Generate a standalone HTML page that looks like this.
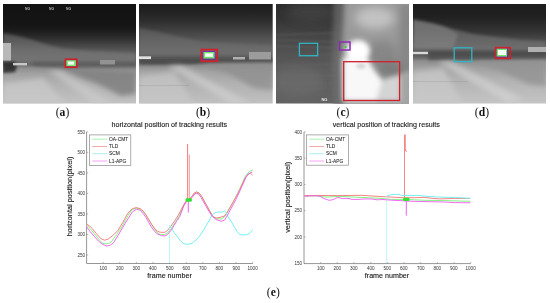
<!DOCTYPE html>
<html><head><meta charset="utf-8">
<style>
html,body{margin:0;padding:0;background:#fff;width:550px;height:303px;overflow:hidden;position:relative}
.im{position:absolute;top:4px;height:99.5px;overflow:hidden}
.im svg{display:block}
.plots{position:absolute;left:0;top:0}
.ov{font-family:"Liberation Sans",sans-serif;font-size:3.4px;font-weight:bold;fill:#b8b8b8}
.ov2{font-family:"Liberation Sans",sans-serif;font-size:4px;font-weight:bold;fill:#e8e8e8}
</style></head>
<body>
<div class="im" style="left:3.3px;width:133px">
<svg width="133" height="99.5" viewBox="0 0 133 99.5">
<defs>
<linearGradient id="gA" x1="0" y1="0" x2="0" y2="1"><stop offset="0.0000" stop-color="#121212"/><stop offset="0.2010" stop-color="#151515"/><stop offset="0.2613" stop-color="#1b1b1b"/><stop offset="0.3116" stop-color="#262626"/><stop offset="0.3618" stop-color="#343434"/><stop offset="0.4121" stop-color="#454545"/><stop offset="0.4623" stop-color="#555"/><stop offset="0.5226" stop-color="#5e5e5e"/><stop offset="0.5729" stop-color="#626262"/><stop offset="0.6131" stop-color="#6a6a6a"/><stop offset="0.6432" stop-color="#8e8e8e"/><stop offset="0.7035" stop-color="#a2a2a2"/><stop offset="0.8040" stop-color="#b2b2b2"/><stop offset="1.0000" stop-color="#c2c2c2"/></linearGradient>
<filter id="bA" x="-30%" y="-30%" width="160%" height="160%"><feGaussianBlur stdDeviation="1.6"/></filter><filter id="bA2" x="-30%" y="-30%" width="160%" height="160%"><feGaussianBlur stdDeviation="0.7"/></filter><filter id="bA3" x="-30%" y="-30%" width="160%" height="160%"><feGaussianBlur stdDeviation="2.5"/></filter>
</defs>
<rect width="133" height="99.5" fill="url(#gA)"/>
<g filter="url(#bA)">
<polygon points="0,29 15,32 30,36 45,41 62,45 90,47 133,49 133,58 0,58" fill="#8a8a8a" opacity="0.45"/>
<polygon points="0,57 12,57 14,62 12,68 0,69" fill="#2a2a2a" opacity="0.9"/>
<polygon points="30,57 133,57 133,64 60,65 30,62" fill="#585858" opacity="0.6"/>
</g>
<g filter="url(#bA3)">
<polygon points="58,65 133,67 133,90 118,92 95,80" fill="#7c7c7c" opacity="0.8"/>
<polygon points="0,80 40,74 62,99.5 0,99.5" fill="#cacaca" opacity="0.7"/>
<polygon points="45,67 58,66 110,99.5 92,99.5" fill="#d0d0d0" opacity="0.55"/>
</g>
<g filter="url(#bA2)">
<rect x="0" y="39" width="8" height="17.5" fill="#b8b8b8"/>
<rect x="10" y="59" width="14" height="2.4" fill="#c8c8c8"/>
<rect x="97" y="56" width="15" height="4.5" fill="#929292"/>
</g>
<text x="22" y="6.2" class="ov">NG</text><text x="46" y="6.2" class="ov">NG</text><text x="63" y="6.2" class="ov">NG</text>
<rect x="63.4" y="56.4" width="9.4" height="5.6" fill="#7de87d"/>
<rect x="65" y="57.6" width="6" height="3" fill="#f4fff4"/>
<rect x="62.3" y="55.2" width="11.600000000000009" height="8.0" fill="none" stroke="#d0202c" stroke-width="1.6"/>
</svg></div>
<div class="im" style="left:139px;width:133.7px">
<svg width="133.7" height="99.5" viewBox="0 0 133.7 99.5">
<defs>
<linearGradient id="gB" x1="0" y1="0" x2="0" y2="1"><stop offset="0.0000" stop-color="#1c1c1c"/><stop offset="0.0804" stop-color="#222"/><stop offset="0.1608" stop-color="#2c2c2c"/><stop offset="0.2613" stop-color="#404040"/><stop offset="0.3618" stop-color="#555"/><stop offset="0.4623" stop-color="#626262"/><stop offset="0.5025" stop-color="#666"/><stop offset="0.5327" stop-color="#606060"/><stop offset="0.5829" stop-color="#6a6a6a"/><stop offset="0.6131" stop-color="#8e8e8e"/><stop offset="0.6834" stop-color="#a4a4a4"/><stop offset="0.8040" stop-color="#b2b2b2"/><stop offset="1.0000" stop-color="#c0c0c0"/></linearGradient>
<filter id="bB" x="-30%" y="-30%" width="160%" height="160%"><feGaussianBlur stdDeviation="1.6"/></filter><filter id="bB2" x="-30%" y="-30%" width="160%" height="160%"><feGaussianBlur stdDeviation="0.7"/></filter><filter id="bB3" x="-30%" y="-30%" width="160%" height="160%"><feGaussianBlur stdDeviation="2.5"/></filter>
</defs>
<rect width="133.7" height="99.5" fill="url(#gB)"/>
<g filter="url(#bB)">
<polygon points="0,24 20,28 40,33 60,37 90,39 133.7,41 133.7,50 0,50" fill="#7a7a7a" opacity="0.4"/>
<polygon points="0,54 40,54 133.7,54 133.7,58 70,59 40,61 0,61" fill="#454545" opacity="0.8"/>
</g>
<g filter="url(#bB3)">
<polygon points="60,60 133.7,59 133.7,86 115,84 90,70" fill="#8e8e8e" opacity="0.8"/>
<polygon points="0,72 35,68 55,99.5 0,99.5" fill="#c8c8c8" opacity="0.7"/>
<polygon points="28,62 42,61 112,99.5 92,99.5" fill="#d4d4d4" opacity="0.6"/>
</g>
<g filter="url(#bB2)">
<rect x="0" y="52.3" width="12" height="2.8" fill="#e0e0e0"/>
<rect x="110" y="48" width="22" height="7.5" fill="#9c9c9c"/><rect x="94" y="53" width="12" height="2.5" fill="#b0b0b0"/>
<rect x="0" y="81" width="50" height="1" fill="#909090" opacity="0.3"/>
</g>
<rect x="63.5" y="47" width="13" height="8.5" fill="#7a2cb0"/>
<rect x="64.5" y="48" width="11" height="6.5" fill="#6be86b"/>
<rect x="66" y="49.3" width="8" height="3.5" fill="#f6fff6"/>
<rect x="62.4" y="45.6" width="15.800000000000004" height="11.600000000000001" fill="none" stroke="#d0202c" stroke-width="1.8"/>
</svg></div>
<div class="im" style="left:275.8px;width:133.2px">
<svg width="133.2" height="99.5" viewBox="0 0 133.2 99.5">
<defs>
<linearGradient id="gC" x1="0" y1="0" x2="0" y2="1"><stop offset="0.0000" stop-color="#2c2c2c"/><stop offset="0.1508" stop-color="#343434"/><stop offset="0.3015" stop-color="#444"/><stop offset="0.4523" stop-color="#505050"/><stop offset="0.6533" stop-color="#5c5c5c"/><stop offset="1.0000" stop-color="#626262"/></linearGradient>
<filter id="bC" x="-30%" y="-30%" width="160%" height="160%"><feGaussianBlur stdDeviation="5"/></filter><filter id="bC2" x="-30%" y="-30%" width="160%" height="160%"><feGaussianBlur stdDeviation="2.5"/></filter><filter id="bC3" x="-30%" y="-30%" width="160%" height="160%"><feGaussianBlur stdDeviation="1.5"/></filter><filter id="bC4" x="-30%" y="-30%" width="160%" height="160%"><feGaussianBlur stdDeviation="0.8"/></filter>
</defs>
<rect width="133.2" height="99.5" fill="url(#gC)"/>
<g filter="url(#bC4)" opacity="0.6">
<path d="M0,31 L60,29 M0,36 L62,38 M0,42 L58,44 M0,62 L60,60 M0,70 L60,72 M0,78 L60,80 M0,86 L60,84 M30,52 L62,50" stroke="#6a6a6a" stroke-width="1.2"/>
</g>
<g filter="url(#bC)">
<ellipse cx="22" cy="78" rx="26" ry="14" fill="#6c6c6c" opacity="0.7"/>
<ellipse cx="35" cy="8" rx="25" ry="10" fill="#484848" opacity="0.6"/>
</g>
<g filter="url(#bC2)">
<polygon points="68,-10 145,-10 145,110 68,110 64,60" fill="#9a9a9a"/>
<polygon points="58,-10 70,-10 66,60 68,110 58,110 56,60" fill="#707070" opacity="0.7"/>
</g>
<g filter="url(#bC)">
<ellipse cx="99" cy="14" rx="20" ry="11" fill="#c2c2c2"/>
<rect x="124" y="0" width="14" height="72" fill="#848484"/>
<ellipse cx="106" cy="50" rx="15" ry="13" fill="#868686"/>
<ellipse cx="114" cy="66" rx="13" ry="9" fill="#7a7a7a"/>
</g>
<g filter="url(#bC2)">
<ellipse cx="82" cy="47" rx="12" ry="11" fill="#fff"/>
<polygon points="80,97 98,80 112,74 124,71 133,68 133,97" fill="#d4d4d4"/>
<polygon points="67,53 92,55 98,66 106,76 100,97 67,97" fill="#f8f8f8"/>
<rect x="124" y="70" width="12" height="32" fill="#a4a4a4"/>
</g>
<g filter="url(#bC3)">
<ellipse cx="85" cy="62" rx="5" ry="3" fill="#d8d8d8"/>
</g>
<text x="45.5" y="97.3" class="ov2">NG</text>
<rect x="23.4" y="39.3" width="18.200000000000003" height="12.400000000000006" fill="none" stroke="#30b4c4" stroke-width="1.3"/>
<circle cx="69.7" cy="43" r="1" fill="#2ad02a"/>
<rect x="63.5" y="38" width="10.5" height="8" fill="none" stroke="#8a2cb4" stroke-width="1.5"/>
<rect x="67.7" y="57.7" width="55.89999999999999" height="38.8" fill="none" stroke="#d0202c" stroke-width="1.3"/>
</svg></div>
<div class="im" style="left:412.6px;width:133px">
<svg width="133" height="99.5" viewBox="0 0 133 99.5">
<defs>
<linearGradient id="gD" x1="0" y1="0" x2="0" y2="1"><stop offset="0.0000" stop-color="#1c1c1c"/><stop offset="0.1206" stop-color="#202020"/><stop offset="0.2010" stop-color="#2a2a2a"/><stop offset="0.2814" stop-color="#363636"/><stop offset="0.3417" stop-color="#444"/><stop offset="0.4020" stop-color="#505050"/><stop offset="0.4422" stop-color="#5a5a5a"/><stop offset="0.4724" stop-color="#5a5a5a"/><stop offset="0.5025" stop-color="#555"/><stop offset="0.5427" stop-color="#6c6c6c"/><stop offset="0.5729" stop-color="#8e8e8e"/><stop offset="0.6432" stop-color="#a2a2a2"/><stop offset="0.7538" stop-color="#b2b2b2"/><stop offset="1.0000" stop-color="#c4c4c4"/></linearGradient>
<filter id="bD" x="-30%" y="-30%" width="160%" height="160%"><feGaussianBlur stdDeviation="1.6"/></filter><filter id="bD2" x="-30%" y="-30%" width="160%" height="160%"><feGaussianBlur stdDeviation="0.7"/></filter><filter id="bD3" x="-30%" y="-30%" width="160%" height="160%"><feGaussianBlur stdDeviation="2.5"/></filter>
</defs>
<rect width="133" height="99.5" fill="url(#gD)"/>
<g filter="url(#bD)">
<polygon points="0,15 20,19 40,25 60,30 83,33 110,36 133,37 133,46 0,46" fill="#7e7e7e" opacity="0.55"/>
<polygon points="0,16 30,22 45,30 40,44 0,44" fill="#909090" opacity="0.4"/>
<polygon points="15,46 133,46 133,55 70,56 15,56" fill="#484848" opacity="0.7"/>
</g>
<g filter="url(#bD3)">
<polygon points="55,57 133,56 133,82 115,80 85,66" fill="#929292" opacity="0.8"/>
<polygon points="0,68 30,64 50,99.5 0,99.5" fill="#cacaca" opacity="0.7"/>
<polygon points="25,58 38,57 110,95 95,99.5" fill="#d6d6d6" opacity="0.6"/>
</g>
<g filter="url(#bD2)">
<rect x="0" y="47.8" width="15" height="2.4" fill="#d8d8d8"/>
<rect x="115" y="43" width="18" height="5" fill="#b0b0b0"/>
<rect x="0" y="77" width="55" height="1" fill="#909090" opacity="0.3"/>
</g>
<rect x="41.2" y="43.8" width="17.599999999999994" height="13.800000000000004" fill="none" stroke="#30b4c4" stroke-width="1.3"/>
<rect x="82.5" y="43.5" width="12.5" height="10" fill="#7a2cb0"/>
<rect x="83.5" y="44.5" width="10.5" height="8" fill="#6be86b"/>
<rect x="85" y="46" width="8" height="5" fill="#f6fff6"/>
<rect x="82.5" y="43.6" width="14.700000000000003" height="10.799999999999997" fill="none" stroke="#d0202c" stroke-width="1.6"/>
</svg></div>

<svg class="plots" width="550" height="303" viewBox="0 0 550 303">
<style>
 .tk{font-family:"Liberation Sans",Arial,sans-serif;font-size:4.6px;fill:#333}
 .lg{font-family:"Liberation Sans",Arial,sans-serif;font-size:4.85px;fill:#222;stroke:#222;stroke-width:0.06px}
 .tt{font-family:"Liberation Sans",Arial,sans-serif;font-size:7.15px;fill:#1a1a1a;stroke:#1a1a1a;stroke-width:0.12px}
 .yl{font-family:"Liberation Sans",Arial,sans-serif;font-size:7.4px;fill:#1a1a1a;stroke:#1a1a1a;stroke-width:0.12px}
 .cap{font-family:"Liberation Serif","Times New Roman",serif;font-size:11.6px;fill:#111}
 .cap b{font-weight:bold}
</style>
<!-- left plot -->
<path d="M86.6,131.9 V263.5 H252.7" fill="none" stroke="#8a8a8a" stroke-width="0.9"/>
<line x1="103.2" y1="263.5" x2="103.2" y2="261.9" stroke="#8a8a8a" stroke-width="0.6"/>
<text x="99.5" y="269.5" class="tk">100</text>
<line x1="119.8" y1="263.5" x2="119.8" y2="261.9" stroke="#8a8a8a" stroke-width="0.6"/>
<text x="116.0" y="269.5" class="tk">200</text>
<line x1="136.4" y1="263.5" x2="136.4" y2="261.9" stroke="#8a8a8a" stroke-width="0.6"/>
<text x="132.5" y="269.5" class="tk">300</text>
<line x1="153.0" y1="263.5" x2="153.0" y2="261.9" stroke="#8a8a8a" stroke-width="0.6"/>
<text x="149.0" y="269.5" class="tk">400</text>
<line x1="169.6" y1="263.5" x2="169.6" y2="261.9" stroke="#8a8a8a" stroke-width="0.6"/>
<text x="166.0" y="269.5" class="tk">500</text>
<line x1="186.3" y1="263.5" x2="186.3" y2="261.9" stroke="#8a8a8a" stroke-width="0.6"/>
<text x="182.5" y="269.5" class="tk">600</text>
<line x1="202.9" y1="263.5" x2="202.9" y2="261.9" stroke="#8a8a8a" stroke-width="0.6"/>
<text x="199.0" y="269.5" class="tk">700</text>
<line x1="219.5" y1="263.5" x2="219.5" y2="261.9" stroke="#8a8a8a" stroke-width="0.6"/>
<text x="215.5" y="269.5" class="tk">800</text>
<line x1="236.1" y1="263.5" x2="236.1" y2="261.9" stroke="#8a8a8a" stroke-width="0.6"/>
<text x="232.5" y="269.5" class="tk">900</text>
<line x1="252.7" y1="263.5" x2="252.7" y2="261.9" stroke="#8a8a8a" stroke-width="0.6"/>
<text x="247.5" y="269.5" class="tk">1000</text>
<line x1="86.6" y1="255.0" x2="88.19999999999999" y2="255.0" stroke="#8a8a8a" stroke-width="0.6"/>
<text x="77.5" y="256.6" class="tk">250</text>
<line x1="86.6" y1="234.5" x2="88.19999999999999" y2="234.5" stroke="#8a8a8a" stroke-width="0.6"/>
<text x="77.5" y="236.1" class="tk">300</text>
<line x1="86.6" y1="214.0" x2="88.19999999999999" y2="214.0" stroke="#8a8a8a" stroke-width="0.6"/>
<text x="77.5" y="215.6" class="tk">350</text>
<line x1="86.6" y1="193.4" x2="88.19999999999999" y2="193.4" stroke="#8a8a8a" stroke-width="0.6"/>
<text x="77.5" y="195.0" class="tk">400</text>
<line x1="86.6" y1="172.9" x2="88.19999999999999" y2="172.9" stroke="#8a8a8a" stroke-width="0.6"/>
<text x="77.5" y="174.5" class="tk">450</text>
<line x1="86.6" y1="152.4" x2="88.19999999999999" y2="152.4" stroke="#8a8a8a" stroke-width="0.6"/>
<text x="77.5" y="154.0" class="tk">500</text>
<line x1="86.6" y1="131.9" x2="88.19999999999999" y2="131.9" stroke="#8a8a8a" stroke-width="0.6"/>
<text x="77.5" y="133.5" class="tk">550</text>

<polyline points="86.6,225.0 87.1,225.4 90.2,228.6 94.5,233.9 98.7,239.1 101.9,242.8 105.0,243.9 108.7,243.4 111.4,241.8 116.7,234.4 122.0,226.5 126.7,218.0 128.1,215.4 132.2,209.6 136.4,208.1 140.5,209.2 143.0,211.3 145.9,215.2 148.9,220.2 151.9,225.1 154.9,229.8 157.8,233.0 160.7,234.8 164.8,234.6 167.7,232.7 171.4,228.2 175.6,221.6 179.3,215.8 183.8,205.0 186.1,201.4 188.5,199.8 191.9,196.7 194.2,193.3 196.5,192.1 199.0,193.1 201.6,196.4 204.2,201.1 208.2,208.3 211.5,214.3 213.5,216.9 216.1,218.7 221.4,219.1 225.0,216.5 227.9,211.5 231.9,204.6 235.8,196.7 239.8,188.8 242.5,182.5 244.8,177.2 247.0,174.0 249.5,171.5 252.7,169.9" fill="none" stroke="#7cf27c" stroke-width="0.95" stroke-linejoin="round"/>
<polyline points="86.6,224.0 87.1,224.3 90.2,226.5 92.3,228.6 96.6,233.9 100.8,238.6 104.5,240.2 108.2,239.1 113.5,234.9 117.7,230.7 123.0,222.2 125.1,218.0 128.1,213.0 132.2,208.8 136.4,207.5 140.5,208.8 143.0,210.8 145.9,214.7 148.9,219.7 151.9,224.6 154.9,229.0 157.8,231.5 160.8,232.3 164.8,232.3 167.3,230.7 170.6,226.5 174.7,220.8 178.4,215.0 183.8,204.6 186.1,201.1 188.5,199.5 191.9,196.5 194.2,193.1 196.5,191.9 199.0,192.9 201.6,196.2 204.2,200.9 208.2,208.1 211.5,214.1 213.5,216.7 216.1,218.0 220.1,217.4 224.7,216.0 227.9,211.0 231.9,204.0 235.8,197.4 239.8,189.6 242.5,183.4 245.6,177.2 248.0,174.2 250.1,173.2 251.5,174.2 252.7,175.2" fill="none" stroke="#f47c7c" stroke-width="0.95" stroke-linejoin="round"/>
<line x1="187.6" y1="199.5" x2="187.6" y2="144" stroke="#f47c7c" stroke-width="1"/>
<line x1="189.3" y1="199.5" x2="189.3" y2="154.5" stroke="#f47c7c" stroke-width="0.8"/>
<polyline points="169.5,225.0 172.0,228.9 174.0,232.4 177.9,237.3 180.9,241.3 183.9,243.8 187.8,244.3 191.8,243.3 195.8,240.3 199.7,235.9 203.7,229.9 207.6,223.0 209.6,220.0 211.5,216.0 213.5,213.4 217.5,212.1 222.7,212.1 224.2,210.6 226.0,212.5 228.0,216.6 231.3,221.6 234.6,227.4 237.1,231.5 239.5,234.4 242.0,234.9 246.1,234.8 249.4,233.5 251.9,230.7 252.7,229.5" fill="none" stroke="#70eeee" stroke-width="0.95" stroke-linejoin="round"/>
<line x1="169.5" y1="225" x2="169.5" y2="263" stroke="#a8f4f4" stroke-width="0.7"/>
<polyline points="86.6,226.5 87.1,227.5 90.2,231.7 94.5,236.5 98.7,241.3 101.9,243.9 106.1,246.0 109.8,245.5 113.5,242.8 117.7,236.0 123.0,227.0 125.0,223.5 128.1,218.7 132.2,212.1 136.4,209.2 140.5,210.4 143.0,213.4 145.9,217.4 148.9,222.8 151.9,227.8 154.9,231.8 157.8,234.2 161.5,235.6 164.8,236.0 167.7,234.4 171.4,229.8 176.4,221.6 179.7,216.6 183.8,206.0 186.1,202.0 188.5,200.5 192.0,197.7 195.0,193.6 197.0,193.2 199.0,194.4 201.0,197.4 203.0,201.0 205.5,205.2 208.2,210.0 212.2,216.4 216.1,219.6 221.4,221.3 224.7,220.0 227.9,214.5 231.9,207.0 235.8,199.7 239.8,191.2 241.9,186.4 246.1,177.2 248.5,174.0 250.5,172.6 252.2,172.1" fill="none" stroke="#f060f0" stroke-width="0.95" stroke-linejoin="round"/>
<line x1="188.3" y1="200" x2="188.3" y2="212.5" stroke="#f060f0" stroke-width="1"/>
<rect x="185.6" y="198.3" width="6.3" height="3.4" rx="1.2" fill="#30e430"/>
<rect x="89.4" y="134.9" width="41.4" height="30.5" fill="#fff" stroke="#8a8a8a" stroke-width="0.7"/>
<line x1="92.30000000000001" y1="139.20" x2="107.2" y2="139.20" stroke="#9cf09c" stroke-width="0.85"/>
<text x="109.10000000000001" y="140.95" class="lg">OA-CMT</text>
<line x1="92.30000000000001" y1="146.47" x2="107.2" y2="146.47" stroke="#f49a9a" stroke-width="0.85"/>
<text x="109.10000000000001" y="148.22" class="lg">TLD</text>
<line x1="92.30000000000001" y1="153.74" x2="107.2" y2="153.74" stroke="#98eef0" stroke-width="0.85"/>
<text x="109.10000000000001" y="155.49" class="lg">SCM</text>
<line x1="92.30000000000001" y1="161.01" x2="107.2" y2="161.01" stroke="#f294f2" stroke-width="0.85"/>
<text x="109.10000000000001" y="162.76" class="lg">L1-APG</text>
<text x="169.3" y="127.0" class="tt" text-anchor="middle">horizontal position of tracking results</text>
<text x="169.6" y="278.1" class="tt" text-anchor="middle">frame number</text>
<text transform="translate(72.2,196.5) rotate(-90)" class="yl" text-anchor="middle">horizontal position(pixel)</text>

<!-- right plot -->
<path d="M304,131.9 V263.6 H470.7" fill="none" stroke="#8a8a8a" stroke-width="0.9"/>
<line x1="320.7" y1="263.6" x2="320.7" y2="262.0" stroke="#8a8a8a" stroke-width="0.6"/>
<text x="317.0" y="269.6" class="tk">100</text>
<line x1="337.3" y1="263.6" x2="337.3" y2="262.0" stroke="#8a8a8a" stroke-width="0.6"/>
<text x="333.5" y="269.6" class="tk">200</text>
<line x1="354.0" y1="263.6" x2="354.0" y2="262.0" stroke="#8a8a8a" stroke-width="0.6"/>
<text x="350.0" y="269.6" class="tk">300</text>
<line x1="370.7" y1="263.6" x2="370.7" y2="262.0" stroke="#8a8a8a" stroke-width="0.6"/>
<text x="367.0" y="269.6" class="tk">400</text>
<line x1="387.4" y1="263.6" x2="387.4" y2="262.0" stroke="#8a8a8a" stroke-width="0.6"/>
<text x="383.5" y="269.6" class="tk">500</text>
<line x1="404.0" y1="263.6" x2="404.0" y2="262.0" stroke="#8a8a8a" stroke-width="0.6"/>
<text x="400.0" y="269.6" class="tk">600</text>
<line x1="420.7" y1="263.6" x2="420.7" y2="262.0" stroke="#8a8a8a" stroke-width="0.6"/>
<text x="417.0" y="269.6" class="tk">700</text>
<line x1="437.4" y1="263.6" x2="437.4" y2="262.0" stroke="#8a8a8a" stroke-width="0.6"/>
<text x="433.5" y="269.6" class="tk">800</text>
<line x1="454.0" y1="263.6" x2="454.0" y2="262.0" stroke="#8a8a8a" stroke-width="0.6"/>
<text x="450.0" y="269.6" class="tk">900</text>
<line x1="470.7" y1="263.6" x2="470.7" y2="262.0" stroke="#8a8a8a" stroke-width="0.6"/>
<text x="465.5" y="269.6" class="tk">1000</text>
<line x1="304" y1="263.3" x2="305.6" y2="263.3" stroke="#8a8a8a" stroke-width="0.6"/>
<text x="294.5" y="264.9" class="tk">150</text>
<line x1="304" y1="237.0" x2="305.6" y2="237.0" stroke="#8a8a8a" stroke-width="0.6"/>
<text x="294.5" y="238.6" class="tk">200</text>
<line x1="304" y1="210.7" x2="305.6" y2="210.7" stroke="#8a8a8a" stroke-width="0.6"/>
<text x="294.5" y="212.3" class="tk">250</text>
<line x1="304" y1="184.5" x2="305.6" y2="184.5" stroke="#8a8a8a" stroke-width="0.6"/>
<text x="294.5" y="186.1" class="tk">300</text>
<line x1="304" y1="158.2" x2="305.6" y2="158.2" stroke="#8a8a8a" stroke-width="0.6"/>
<text x="294.5" y="159.8" class="tk">350</text>
<line x1="304" y1="131.9" x2="305.6" y2="131.9" stroke="#8a8a8a" stroke-width="0.6"/>
<text x="294.5" y="133.5" class="tk">400</text>

<polyline points="304.3,195.9 318.0,196.0 320.8,196.2 323.9,197.0 329.3,197.0 334.8,196.6 345.0,196.6 360.0,197.4 380.0,198.3 391.5,199.4 403.1,199.4 414.6,199.8 425.0,200.3 444.8,200.6 470.3,201.3" fill="none" stroke="#7cf27c" stroke-width="0.95" stroke-linejoin="round"/>
<polyline points="304.3,195.6 320.0,195.5 340.0,195.6 355.0,195.4 362.0,195.3 375.0,196.2 380.0,196.5 391.5,197.1 403.1,197.7 414.6,197.7 425.0,197.4 432.0,198.3 439.9,198.9 454.7,198.4 470.3,198.4" fill="none" stroke="#f47c7c" stroke-width="0.95" stroke-linejoin="round"/>
<path d="M404.5,197.7 V134.4 M405.3,151 V134.6 M405.4,149.5 L406.6,151.8" stroke="#f47c7c" stroke-width="0.9" fill="none"/>
<polyline points="386.6,196.0 390.4,194.8 397.3,194.2 401.9,195.4 408.9,195.6 418.1,195.4 425.0,196.1 439.9,197.1 454.7,197.4 470.3,198.4" fill="none" stroke="#70eeee" stroke-width="0.95" stroke-linejoin="round"/>
<line x1="386.6" y1="196" x2="386.6" y2="263.2" stroke="#a8f4f4" stroke-width="0.7"/>
<polyline points="304.3,195.8 306.7,196.6 309.0,195.8 317.6,195.8 320.8,196.6 323.1,198.2 326.2,199.3 329.3,200.3 332.5,199.7 334.8,198.9 337.2,197.5 339.5,197.8 342.6,198.5 345.0,198.4 349.0,198.5 352.0,199.4 358.0,199.4 365.0,198.9 372.0,199.0 377.0,199.8 383.0,199.5 391.5,200.2 400.0,200.6 408.9,201.2 425.0,201.6 444.8,202.0 454.7,202.6 470.3,202.8" fill="none" stroke="#f060f0" stroke-width="0.95" stroke-linejoin="round"/>
<line x1="406.3" y1="201" x2="406.3" y2="215.6" stroke="#f060f0" stroke-width="1"/>
<rect x="403.1" y="197.8" width="6.3" height="3.3" rx="1.2" fill="#30e430"/>
<rect x="306.4" y="134.9" width="42.1" height="30.3" fill="#fff" stroke="#8a8a8a" stroke-width="0.7"/>
<line x1="309.29999999999995" y1="139.20" x2="324.2" y2="139.20" stroke="#9cf09c" stroke-width="0.85"/>
<text x="326.09999999999997" y="140.95" class="lg">OA-CMT</text>
<line x1="309.29999999999995" y1="146.47" x2="324.2" y2="146.47" stroke="#f49a9a" stroke-width="0.85"/>
<text x="326.09999999999997" y="148.22" class="lg">TLD</text>
<line x1="309.29999999999995" y1="153.74" x2="324.2" y2="153.74" stroke="#98eef0" stroke-width="0.85"/>
<text x="326.09999999999997" y="155.49" class="lg">SCM</text>
<line x1="309.29999999999995" y1="161.01" x2="324.2" y2="161.01" stroke="#f294f2" stroke-width="0.85"/>
<text x="326.09999999999997" y="162.76" class="lg">L1-APG</text>
<text x="386.3" y="127.0" class="tt" text-anchor="middle">vertical position of tracking results</text>
<text x="387" y="278.1" class="tt" text-anchor="middle">frame number</text>
<text transform="translate(289.9,197.3) rotate(-90)" class="yl" text-anchor="middle">vertical position(pixel)</text>

<!-- captions -->
<text x="62.5" y="116.2" class="cap" text-anchor="middle">(<tspan font-weight="bold">a</tspan>)</text>
<text x="203" y="116.2" class="cap" text-anchor="middle">(<tspan font-weight="bold">b</tspan>)</text>
<text x="343" y="116.2" class="cap" text-anchor="middle">(<tspan font-weight="bold">c</tspan>)</text>
<text x="481.9" y="116.2" class="cap" text-anchor="middle">(<tspan font-weight="bold">d</tspan>)</text>
<text x="273.3" y="295.5" class="cap" text-anchor="middle">(<tspan font-weight="bold">e</tspan>)</text>
</svg>

</body></html>
